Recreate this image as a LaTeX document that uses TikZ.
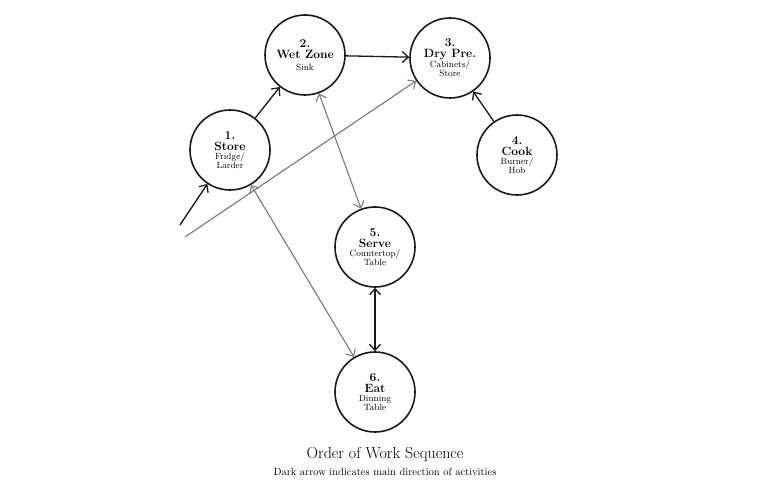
\documentclass[tikz,border=0pt]{standalone}
\usepackage{xcolor}
\usetikzlibrary{arrows.meta, positioning}

\begin{document}
\begin{tikzpicture}[x=1pt, y=-1pt, >={Straight Barb[length=6pt,width=11pt]}]

\definecolor{darkline}{RGB}{25, 25, 25}
\definecolor{greyline}{RGB}{120, 120, 120}

\tikzset{
  zone/.style={circle, draw=darkline, line width=1.6pt, minimum size=80pt, inner sep=0pt, align=center, font=\fontsize{9}{9}\selectfont},
  mainflow/.style={->, darkline, line width=1.3pt},
  sideflow/.style={<->, greyline, line width=1.1pt}
}

% Background
\fill[white] (0,0) rectangle (768,486);

% Work zones
\node[zone] (store) at (230,150) {\textbf{\large 1.}\\[2pt]\textbf{\large Store}\\Fridge/\\Larder};
\node[zone] (wet) at (305,55) {\textbf{\large 2.}\\[2pt]\textbf{\large Wet Zone}\\[3pt]Sink};
\node[zone] (dry) at (450,58) {\textbf{\large 3.}\\[2pt]\textbf{\large Dry Pre.}\\Cabinets/\\Store};
\node[zone] (cook) at (517,155) {\textbf{\large 4.}\\[2pt]\textbf{\large Cook}\\Burner/\\Hob};
\node[zone] (serve) at (375,247) {\textbf{\large 5.}\\[2pt]\textbf{\large Serve}\\Countertop/\\Table};
\node[zone] (eat) at (375,392) {\textbf{\large 6.}\\[2pt]\textbf{\large Eat}\\Dinning\\Table};

% Loose ends
\coordinate (entry) at (180,225);
\coordinate (lowentry) at (185,237);

% Main direction
\draw[mainflow] (entry) -- (store);
\draw[mainflow] (store) -- (wet);
\draw[mainflow] (wet) -- (dry);
\draw[mainflow] (cook) -- (dry);
\draw[<->, darkline, line width=1.3pt] (serve) -- (eat);

% Secondary links
\draw[->, greyline, line width=1.1pt] (lowentry) -- (dry);
\draw[sideflow] (wet) -- (serve);
\draw[sideflow] (store) -- (eat);

% Caption
\node[font=\fontsize{16}{16}\selectfont] (title) at (385,454) {Order of Work Sequence};
\node[font=\fontsize{10.5}{10.5}\selectfont, below=0pt of title] (subtitle) {Dark arrow indicates main direction of activities};

\end{tikzpicture}
\end{document}
